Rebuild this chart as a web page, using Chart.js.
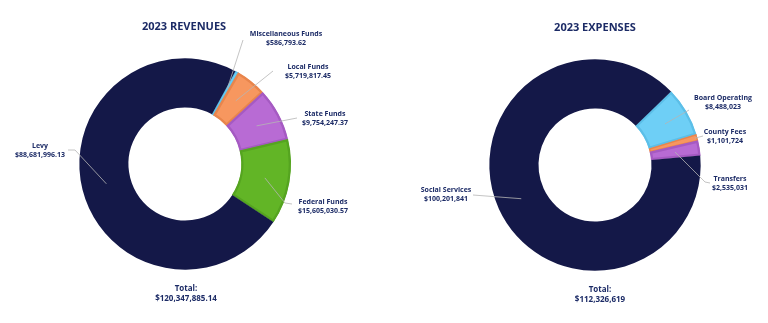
<!DOCTYPE html>
<html>
<head>
<meta charset="utf-8">
<script src="https://cdn.jsdelivr.net/npm/chart.js@4"></script>
<style>
  html, body { margin: 0; padding: 0; background: #fff; }
  .wrap { display: flex; width: 768px; height: 323px; }
  canvas { display: block; }
</style>
</head>
<body>
<div class="wrap">
  <canvas id="revenues" width="384" height="323"></canvas>
  <canvas id="expenses" width="384" height="323"></canvas>
</div>
<script>
  'use strict';

  // Data
  const revenueLabels = ['Miscellaneous Funds', 'Local Funds', 'State Funds', 'Federal Funds', 'Levy'];
  const revenueValues = [586793.62, 5719817.45, 9754247.37, 15605030.57, 88681996.13];

  const expenseLabels = ['Board Operating', 'County Fees', 'Transfers', 'Social Services'];
  const expenseValues = [8488023, 1101724, 2535031, 100201841];

  const NAVY = '#141848';
  const TEXT = '#1c2b66';
  const FONT = '"Open Sans", "Liberation Sans", sans-serif';

  const money = (v, dec) =>
    '$' + v.toLocaleString('en-US', { minimumFractionDigits: dec, maximumFractionDigits: dec });

  // Draws titles, leader lines, slice labels and totals.
  const sliceLabels = {
    id: 'sliceLabels',
    afterDraw(chart, args, opts) {
      const ctx = chart.ctx;
      const meta = chart.getDatasetMeta(0);
      const values = chart.data.datasets[0].data;
      ctx.save();
      ctx.fillStyle = TEXT;
      ctx.textAlign = 'center';
      ctx.textBaseline = 'middle';
      ctx.font = 'bold 11px ' + FONT;
      ctx.fillText(opts.title, opts.titleX, opts.titleY);

      meta.data.forEach((arc, i) => {
        const p = arc.getProps(['x', 'y', 'startAngle', 'endAngle', 'innerRadius', 'outerRadius'], true);
        const lay = opts.layout[i];
        const mid = (p.startAngle + p.endAngle) / 2;
        const r = p.innerRadius + (p.outerRadius - p.innerRadius) * (lay.r != null ? lay.r : 0.5);
        ctx.beginPath();
        ctx.moveTo(p.x + Math.cos(mid) * r, p.y + Math.sin(mid) * r);
        lay.line.forEach(([lx, ly]) => ctx.lineTo(lx, ly));
        ctx.strokeStyle = '#b5b5b5';
        ctx.lineWidth = 0.8;
        ctx.stroke();

        ctx.font = 'bold 7px ' + FONT;
        ctx.fillText(chart.data.labels[i], lay.x, lay.y);
        ctx.fillText(money(values[i], opts.decimals), lay.x, lay.y + 8.5);
      });

      const total = values.reduce((a, b) => a + b, 0);
      ctx.font = 'bold 8px ' + FONT;
      ctx.fillText('Total:', opts.totalX, opts.totalY);
      ctx.fillText(money(total, opts.decimals), opts.totalX, opts.totalY + 10);
      ctx.restore();
    },
  };

  const donut = (el, labels, values, colors, borders, widths, rotation, padding, labelOpts) =>
    new Chart(el, {
      type: 'doughnut',
      data: {
        labels,
        datasets: [
          {
            data: values,
            backgroundColor: colors,
            borderColor: borders,
            borderWidth: widths,
            borderAlign: 'inner',
          },
        ],
      },
      options: {
        responsive: false,
        animation: false,
        events: [],
        cutout: '53%',
        rotation,
        layout: { padding },
        plugins: {
          legend: { display: false },
          tooltip: { enabled: false },
          sliceLabels: labelOpts,
        },
      },
      plugins: [sliceLabels],
    });

  donut(
    document.getElementById('revenues'),
    revenueLabels,
    revenueValues,
    ['#6ecff6', '#f7975f', '#b86bd4', '#62b526', NAVY],
    ['#5cbfe8', '#e8854c', '#a55ac2', '#55a420', NAVY],
    [1, 2, 2, 2, 0],
    28.5,
    { left: 79, right: 93, top: 58, bottom: 53 },
    {
      title: '2023 REVENUES', titleX: 184, titleY: 27,
      totalX: 186, totalY: 289, decimals: 2,
      layout: [
        { x: 286, y: 34, r: 0.6, line: [[243, 40]] },
        { x: 308, y: 67, line: [[273, 71]] },
        { x: 325, y: 114, line: [[297, 118]] },
        { x: 323, y: 202, line: [[285, 203], [292, 204]] },
        { x: 40, y: 146, line: [[75, 150], [68, 150]] },
      ],
    }
  );

  donut(
    document.getElementById('expenses'),
    expenseLabels,
    expenseValues,
    ['#6ecff6', '#f7975f', '#b86bd4', NAVY],
    ['#5cbfe8', '#e8854c', '#a55ac2', NAVY],
    [2, 1, 2, 0],
    46,
    { left: 105, right: 67, top: 59, bottom: 52 },
    {
      title: '2023 EXPENSES', titleX: 211, titleY: 28,
      totalX: 216, totalY: 290, decimals: 0,
      layout: [
        { x: 339, y: 98, line: [[305, 110]] },
        { x: 341, y: 132, r: 0.95, line: [[319, 136]] },
        { x: 346, y: 179, line: [[321, 182], [326, 183]] },
        { x: 62, y: 190, line: [[89, 195]] },
      ],
    }
  );
</script>
</body>
</html>
